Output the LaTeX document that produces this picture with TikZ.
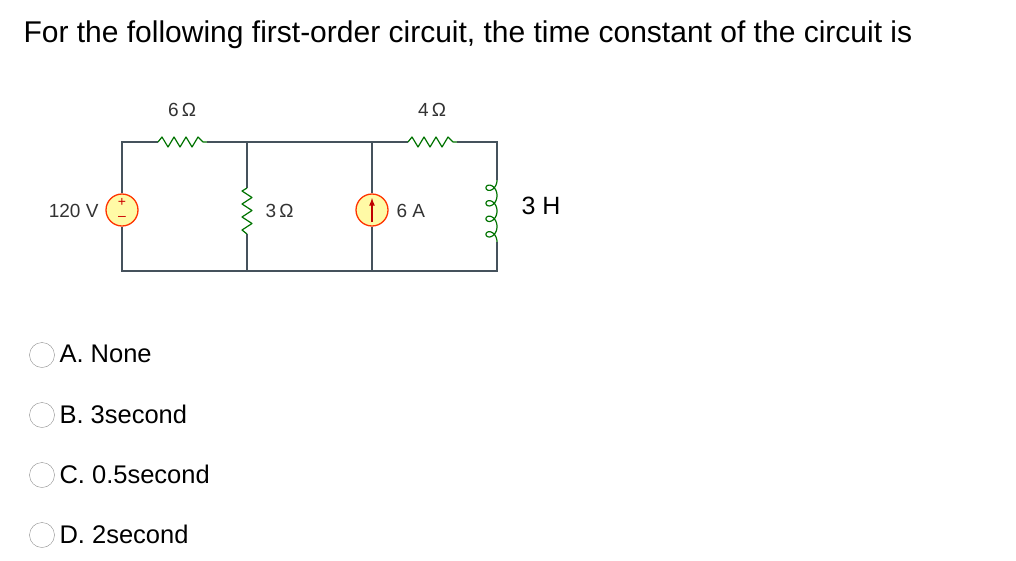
\documentclass[tikz,border=0pt]{standalone}
\usepackage{fontspec}
\setmainfont{Liberation Sans}
\usetikzlibrary{positioning,calc}
\begin{document}
\begin{tikzpicture}[x=1pt,y=-1pt]
\tikzstyle{wire}=[draw=black!55!cyan!60!black, line width=1.6pt]
\tikzstyle{res}=[draw=green!45!black, line width=1.2pt, line join=round]
\tikzstyle{src}=[circle, draw=red!60!orange, fill=yellow!35, line width=1.3pt, minimum size=32pt, inner sep=0pt]
\tikzstyle{lbl}=[font=\fontsize{19}{19}\selectfont, text=black!80]
\tikzstyle{opt}=[circle, draw=black!45, minimum size=25pt, inner sep=0pt]
\tikzstyle{ans}=[font=\fontsize{25.5}{25.5}\selectfont, anchor=west]
\useasboundingbox (0,0) rectangle (1016,560);

\node[anchor=west, font=\fontsize{30}{30}\selectfont] (q) at (20,35) {For the following first-order circuit, the time constant of the circuit is};

% corners
\coordinate (tl) at (122,142);
\coordinate (bl) at (122,271);
\coordinate (tr) at (497,142);
\coordinate (br) at (497,271);
\coordinate (t3) at (247,142);
\coordinate (b3) at (247,271);
\coordinate (ts) at (372,142);
\coordinate (bs) at (372,271);

\node[src] (vs) at (122,210) {};
\node[src] (cs) at (372,210) {};
\node[font=\fontsize{14}{14}\selectfont, text=red!80!black, inner sep=0pt] at ($(vs)+(0,-8)$) {+};
\node[font=\fontsize{14}{14}\selectfont, text=red!80!black, inner sep=0pt] at ($(vs)+(0,8)$) {--};
\draw[-latex, red!75!black, line width=1.6pt] ($(cs)+(0,12)$) -- ($(cs)+(0,-12)$);

% wires
\path[wire] (vs.north) -- (tl) -- (158,142);
\path[wire] (207,142) -- (408,142);
\path[wire] (457,142) -- (tr) -- (497,180);
\path[wire] (497,242) -- (br) -- (bl) -- (vs.south);
\path[wire] (t3) -- (247,188);
\path[wire] (247,234) -- (b3);
\path[wire] (ts) -- (cs.north);
\path[wire] (cs.south) -- (bs);

% resistors
\draw[res] (158,142) -- ++(4,-5) -- ++(6,10) -- ++(6,-10) -- ++(6,10) -- ++(6,-10) -- ++(6,10) -- ++(6,-10) -- ++(5,5) -- (207,142);
\draw[res] (408,142) -- ++(4,-5) -- ++(6,10) -- ++(6,-10) -- ++(6,10) -- ++(6,-10) -- ++(6,10) -- ++(6,-10) -- ++(5,5) -- (457,142);
\draw[res] (247,188) -- ++(-5,3) -- ++(10,6.5) -- ++(-10,6.5) -- ++(10,6.5) -- ++(-10,6.5) -- ++(10,6.5) -- ++(-10,6.5) -- (247,234);
% inductor
\draw[res] plot[domain=0:25.13, samples=200, smooth, variable=\t]
  ({497-5.5*(1-cos(\t r))}, {180+2.47*\t+6*sin(\t r)});

\node[lbl] at (182,110) {6\,Ω};
\node[lbl] at (432,110) {4\,Ω};
\node[lbl, anchor=west] at (262,211) {3\,Ω};
\node[lbl, anchor=west] at (393,211) {6 A};
\node[lbl, anchor=east] at (102,211) {120 V};
\node[font=\fontsize{25}{25}\selectfont, anchor=west] at (518,206) {3 H};

% options
\foreach \y/\t [count=\i] in {355/A. None, 415/B. 3second, 475/C. 0.5second, 535/D. 2second} {
  \node[opt] (o\i) at (42,\y) {};
  \node[ans] (a\i) at (56,\y-1) {\t};
}
\end{tikzpicture}
\end{document}
